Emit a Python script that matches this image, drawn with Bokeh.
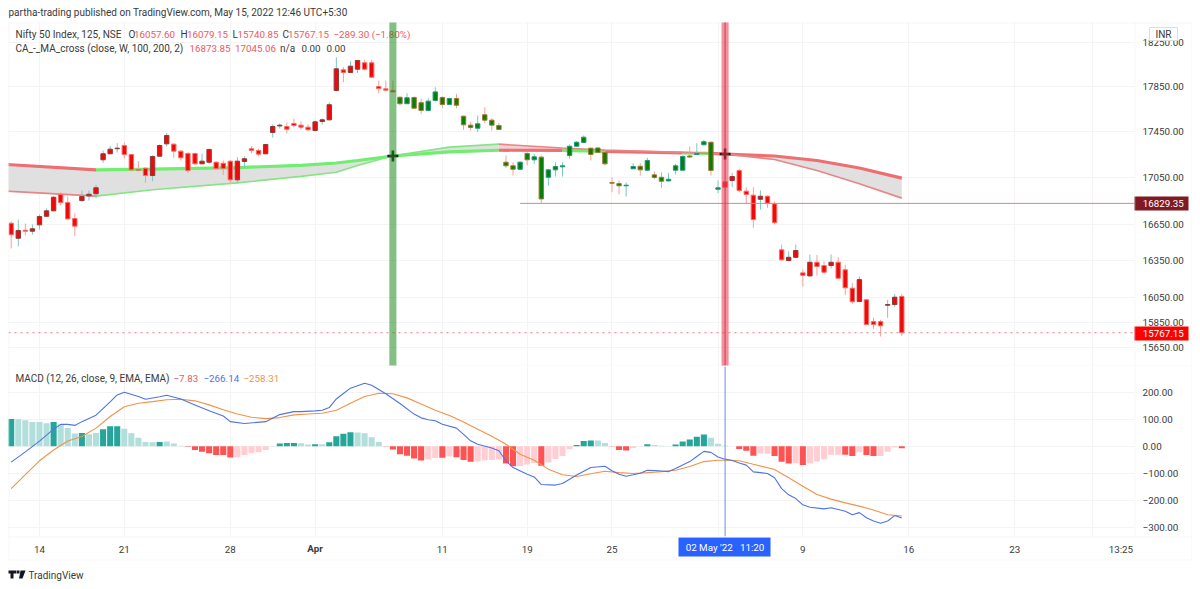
from bokeh.embed import file_html
from bokeh.layouts import column
from bokeh.models import BoxAnnotation, FixedTicker, Label, PolyAnnotation, Range1d
from bokeh.plotting import figure
from bokeh.resources import INLINE

# ---- data -----------------------------------------------------------------------
opens = [16662,16536,16603,16595,16648,16720,16766,16905,16836,16701,16853,16893,16911,17203,17255,17299,17327,17249,17119,17130,
         17067,17234,17342,17339,17278,17258,17258,17168,17182,17182,17173,17191,17030,17188,17299,17284,17255,17441,17499,17494,
         17521,17506,17488,17459,17538,17553,17814,18001,17977,18007,18065,18065,17850,17829,17814,17754,17696,17752,17705,17636,
         17725,17752,17689,17743,17585,17506,17479,17598,17550,17503,17182,17151,17121,17258,17203,17226,17052,17116,17142,17240,
         17321,17354,17304,17306,17267,17007,16998,16979,17125,17147,17113,17073,17052,17021,17113,17113,17236,17249,17334,17356,
         16950,17013,17024,17110,16933,16899,16864,16890,16825,16440,16351,16378,16250,16225,16337,16310,16310,16337,16275,16125,
         16017,16031,15856,15856,15987,15993,16057.60]
highs = [16676,16692,16659,16651,16735,16786,16890,16924,16887,16744,16939,16939,16987,17284,17325,17348,17354,17253,17191,17139,
         17240,17336,17439,17348,17288,17269,17264,17255,17299,17191,17197,17197,17226,17234,17321,17299,17342,17512,17521,17529,
         17565,17538,17512,17547,17565,17707,18116,18025,18077,18092,18092,18092,17904,17904,17904,17760,17790,17760,17740,17745,
         17844,17763,17749,17784,17591,17532,17591,17665,17567,17526,17240,17182,17191,17269,17255,17240,17123,17182,17182,17336,
         17365,17415,17310,17310,17284,17052,17024,17009,17173,17173,17220,17104,17095,17090,17168,17240,17319,17348,17377,17362,
         17024,17024,17090,17125,16967,16967,16939,16896,16845,16484,16428,16484,16277,16401,16398,16345,16401,16378,16316,16165,
         16220,16037,15886,15870,16031,16079,16079.15]
lows = [16451,16470,16559,16567,16609,16716,16764,16811,16692,16556,16845,16853,16873,17177,17253,17267,17214,17104,17110,17004,
        17018,17232,17321,17220,17197,17090,17160,17167,17168,17123,17073,17004,17001,17133,17261,17234,17253,17397,17476,17432,
        17485,17468,17459,17450,17512,17547,17808,17889,17974,17971,17995,17928,17790,17814,17799,17681,17694,17654,17607,17633,
        17719,17656,17687,17656,17465,17459,17444,17523,17459,17463,17133,17067,17119,17154,17168,16829.35,16981,17058,17058,17212,
        17319,17351,17197,17264,17154,16924,16905,16887,17123,17067,17110,17035,16959,17015,17076,17110,17220,17245,17327,17067,
        16916,16953,16967,16924,16825,16624,16777,16792,16651,16351,16347,16373,16138,16222,16228,16244,16286,16203,16071,15998,
        16015,15830,15798,15737,15886,15971,15740.85]
closes = [16565,16601,16595,16615,16718,16766,16881,16836,16698,16637,16887,16907,16962,17255,17295,17304,17249,17116,17113,17067,
          17232,17327,17415,17278,17220,17110,17168,17191,17293,17127,17127,17030,17191,17212,17284,17252,17336,17494,17506,17470,
          17503,17488,17465,17535,17553,17687,18010,17977,18034,18086,18007,17934,17832,17817,17802,17696,17749,17656,17636,17719,
          17802,17689,17743,17683,17509,17485,17518,17550,17506,17468,17151,17121,17182,17203,17229,16867,17116,17145,17151,17321,
          17356,17400,17249,17267,17168,17001,16979,16984,17145,17116,17197,17050,17018,17035,17151,17232,17227,17258,17360,17110,
          16962,16967,17058,16939,16905,16692,16890,16830,16667,16357,16378,16434,16230,16337,16302,16255,16337,16206,16128,16015,
          16195,15832,15832,15822,15993,16052,15767.15]

ma_index = [-1,0,12,20,32,41,46,49,54,62,69,78,84,95,99,101,108,114,120,126]
ma_fast = [16935,16931,16891,16945,17004,17060,17095,17154,17238,17313,17339,17306,17288,17267,17258,17253,17205,17110,16996,16873.85]
ma_slow = [17163,17160,17116,17123,17136,17154,17175,17197,17236,17271,17286,17284,17275,17262,17258,17253,17236,17197,17132,17045.06]

hist = [101,100,96,90,90,85,90,81,67,47,49,44,49,63,74,74,65,48,31,16,15,16,17,10,2,-2,-14,-21,-26,-33,-33,-42,-41,-33,-26,-22,-14,1,10,12,12,
        11,6,7,7,15,37,46,52,51,48,33,16,-1,-12,-30,-35,-46,-53,-49,-44,-43,-38,-41,-51,-58,-57,-52,-51,-49,-64,-74,-73,-68,-62,-72,-60,-47,-36,-11,4,19,21,21,
        12,-1,-14,-16,-7,-1,7,4,2,1,6,17,25,35,43,31,9,2,0,-10,-17,-35,-27,-27,-36,-58,-64,-63,-70,-64,-57,-48,-32,-32,-32,-36,-22,-33,-36,-36,-21,-5,-7.83]
hist_growing = [1,0,0,0,0,0,1,0,0,0,1,0,0,1,1,1,0,0,0,0,0,1,0,0,0,1,1,1,1,1,1,1,0,0,0,0,0,0,1,1,1,
                0,0,1,0,1,1,1,1,0,0,0,0,1,1,1,1,1,1,0,0,1,0,1,1,1,0,0,0,0,1,1,0,0,0,1,0,0,0,0,1,1,1,0,
                0,1,1,1,0,0,1,0,0,0,1,1,1,1,1,0,0,0,0,1,1,1,0,0,1,1,1,0,1,0,0,0,0,0,1,1,0,1,1,0,0,0,1]

macd_index = [0,2,4,6,7,8,9,10,12,14,15,16,18,19,21,22,24,26,28,30,31,33,36,38,40,41,43,44,45,46,47,48,50,51,53,55,57,58,59,60,61,63,64,65,66,68,69,70,71,73,74,75,77,78,80,82,
              84,85,86,87,88,89,90,91,93,94,95,96,97,98,99,100,101,102,103,104,105,106,107,108,109,110,111,112,113,115,116,118,119,120,121,122,123,124,125,126]
macd_line = [-59,-21,19,63,81,81,77,91,115,164,190,200,184,174,183,189,175,153,131,112,91,84,91,117,128,128,131,133,143,175,195,215,233,226,194,158,119,105,98,94,81,67,44,20,7,-7,-17,-54,-79,-104,-114,-142,-144,-138,-107,-79,
             -74,-91,-104,-111,-106,-100,-89,-90,-94,-83,-70,-57,-38,-19,-23,-40,-48,-53,-62,-70,-95,-98,-101,-117,-157,-180,-194,-217,-226,-232,-228,-241,-254,-246,-265,-277,-285,-277,-257,-266.14]
signal_index = [0,2,4,6,8,10,12,14,16,18,20,22,24,26,28,30,32,34,36,38,40,42,44,46,48,50,52,54,56,58,60,62,64,66,68,70,72,74,76,78,80,82,84,86,88,90,92,94,96,98,100,102,103,105,108,110,112,114,116,118,120,122,124,126]
signal_line = [-157,-105,-54,-14,19,36,67,110,146,159,165,172,174,168,153,135,119,107,102,106,116,119,122,133,159,184,196,194,179,156,133,114,90,63,37,7,-30,-52,-85,-106,-112,-102,-93,-98,-101,-98,-94,-89,-75,-57,-52,-52,-54,-67,-86,-117,-148,-179,-196,-210,-222,-236,-254,-258.31]

price_ticks = [15650,15850,16050,16350,16650,17050,17450,17850,18250]
macd_ticks = [-300,-200,-100,0,100,200]
date_ticks = [4,16,31,61,73,85,112,127,142,157]
date_labels = ["14","21","28","11","19","25","9","16","23","13:25"]
grid_ticks = [4,16,31,43,61,73,85,100,112,127,142,153]
month_tick = 43
month_label = "Apr"

change_text = "\u2212289.30 (\u22121.80%)"
cross_up = 54
cross_down = 101
pivot_start = 72
pivot_level = 16829.35
last_close = closes[-1]

FONT = "Roboto"
INK = "#3a3a3a"
RULE = "#e6e6e6"
GRID = "#f4f4f4"
W = 1192
# the frame fills each canvas: x is a bar number, y a price or a MACD value
X_RANGE = (-1.514, 167.13)
AXIS_X = 158.93         # the price scale starts here
LEFT_X = -0.38          # left edge of the panes
P_HI, P_LO = 18436, 15509   # edges of the price pane
M_HI, M_LO = 295.2, -334.4  # edges of the MACD pane
SMALL = "10px"
NUM = "9.8px"


def put(fig, top, text, x, y, color=INK, size=SMALL, align="left", **kw):
    fig.add_layout(Label(x=x, y=y - top, x_units="canvas", y_units="canvas", text=text,
                         text_color=color, text_font=FONT, text_font_size=size, text_align=align,
                         text_baseline="middle", **kw))


def rule(fig, top, x0, y0, x1, y1):
    fig.add_layout(PolyAnnotation(xs=[x0, x1], ys=[y0 - top, y1 - top], xs_units="canvas", ys_units="canvas",
                                  fill_alpha=0, line_color=RULE, line_width=1))


def rect(fig, top, x0, y0, x1, y1, color, level="annotation", **kw):
    fig.add_layout(BoxAnnotation(left=x0, right=x1, top=y0 - top, bottom=y1 - top, left_units="canvas",
                                 right_units="canvas", top_units="canvas", bottom_units="canvas",
                                 fill_color=color, fill_alpha=kw.pop("alpha", 1), line_alpha=kw.pop("line_alpha", 0),
                                 level=level, **kw))


def style_axis(ax):
    ax.major_tick_line_color = None
    ax.minor_tick_line_color = None
    ax.axis_line_color = None
    ax.major_label_text_color = INK
    ax.major_label_text_font = FONT
    ax.major_label_text_font_size = NUM


# ---- price pane ------------------------------------------------------------------
P_TOP = 0
p = figure(width=W, height=366, output_backend="svg", toolbar_location=None, y_axis_type="log",
           y_axis_location="right", x_range=Range1d(*X_RANGE), y_range=Range1d(15501, 18641),
           min_border_left=0, min_border_right=0, min_border_top=0, min_border_bottom=0, x_axis_location=None)
p.outline_line_color = None
p.yaxis.fixed_location = AXIS_X
p.yaxis.ticker = FixedTicker(ticks=price_ticks)
p.yaxis.major_label_overrides = {t: f"{t:.2f}" for t in price_ticks}
p.yaxis.major_label_standoff = 2
style_axis(p.yaxis[0])
p.xgrid.ticker = FixedTicker(ticks=grid_ticks)
p.ygrid.ticker = FixedTicker(ticks=price_ticks)
p.xgrid.grid_line_color = GRID
p.ygrid.grid_line_color = GRID
rect(p, P_TOP, 0, 0, W, 22, "white", level="glyph")
rect(p, P_TOP, 0, 0, 8, 366, "white", level="glyph")
rect(p, P_TOP, 1134, 0, W, 366, "white", level="glyph")

# moving-average ribbon
SEG = [(-1, 12, "red"), (12, 69, "green"), (69, 78, "red"), (78, 84, "green"), (84, 95, "red"),
       (95, 99, "green"), (99, 126, "red")]
RIB_RED, RIB_GREEN = "#ee6f72", "#6fee6f"


def cut(a, b, seq):
    return [v for i, v in zip(ma_index, seq) if a <= i <= b]


p.varea(x=ma_index, y1=ma_fast, y2=ma_slow, fill_color="#e0e0e0")
p.varea(x=cut(69, 84, ma_index), y1=cut(69, 84, ma_fast), y2=cut(69, 84, ma_slow), fill_color="#f0d2d2")
for a, b, tone in SEG:
    p.line(cut(a, b, ma_index), cut(a, b, ma_slow), line_width=3.2,
           line_color=RIB_RED if tone == "red" else RIB_GREEN)
for a, b, tone in [(-1, 12, "red"), (12, 69, "green"), (69, 126, "red")]:
    p.line(cut(a, b, ma_index), cut(a, b, ma_fast), line_width=1.6,
           line_color="#e98585" if tone == "red" else "#85e585")

# candles
xs = list(range(len(closes)))
is_up = [c >= o for o, c in zip(opens, closes)]
in_green = [cross_up < i < cross_down for i in xs]
wick_colors = ["#7cc8c0" if u else "#f4a09c" for u in is_up]
edge_colors = [("#1f9a80" if u else "#a07a30") if g else ("#8c3a3a" if u else "#ff6a60")
               for u, g in zip(is_up, in_green)]
body_colors = ["#0a7d0a" if g else "#ee0a0a" for g in in_green]
p.segment(xs, highs, xs, lows, line_color=wick_colors, line_width=1)
p.vbar(x=xs, width=0.62, bottom=[min(o, c) for o, c in zip(opens, closes)],
       top=[max(o, c) for o, c in zip(opens, closes)], fill_color=body_colors, line_color=edge_colors, line_width=1)

# levels
p.segment([pivot_start], [pivot_level], [AXIS_X], [pivot_level], line_color="#bb8f9c", line_width=1)
p.segment([LEFT_X], [last_close], [AXIS_X], [last_close], line_color="#f47a7a", line_width=1, line_dash="dotted")

# signal bands
p.add_layout(BoxAnnotation(left=cross_up - 0.5, right=cross_up + 0.5, top=P_HI, bottom=P_LO, fill_color="#1f8a1f",
                           fill_alpha=0.55, line_alpha=0, level="overlay"))
p.add_layout(BoxAnnotation(left=cross_down - 0.5, right=cross_down + 0.5, top=P_HI, bottom=P_LO, fill_color="#ee3344",
                           fill_alpha=0.55, line_alpha=0, level="overlay"))
p.segment([cross_down], [P_LO], [cross_down], [P_HI], line_color="#7a5a9a", line_width=1, level="overlay")
p.scatter([cross_up, cross_down], [ma_slow[ma_index.index(cross_up)], ma_slow[ma_index.index(cross_down)]],
          marker="cross", size=11, line_color="#1a1a1a", line_width=2.6, level="overlay")

# texts
put(p, P_TOP, "partha-trading published on TradingView.com, May 15, 2022 12:46 UTC+5:30", 8, 12)
VAL = "#f0585c"
put(p, P_TOP, "Nifty 50 Index, 125, NSE", 15, 34)
for tag, v, x, vx in [("O", opens[-1], 128, 133.5), ("H", highs[-1], 180, 186.5), ("L", lows[-1], 232, 237),
                      ("C", closes[-1], 282, 287.5)]:
    put(p, P_TOP, tag, x, 34)
    put(p, P_TOP, f"{v:.2f}", vx, 34, color=VAL, size=NUM)
put(p, P_TOP, change_text, 333, 34, color=VAL, size=NUM)
put(p, P_TOP, "CA_-_MA_cross (close, W, 100, 200, 2)", 15, 48)
put(p, P_TOP, f"{ma_fast[-1]:.2f}", 189, 48, color=VAL, size=NUM)
put(p, P_TOP, f"{ma_slow[-1]:.2f}", 234.5, 48, color=VAL, size=NUM)
put(p, P_TOP, "n/a", 279.5, 48)
put(p, P_TOP, "0.00", 301, 48, size=NUM)
put(p, P_TOP, "0.00", 326, 48, size=NUM)
rect(p, P_TOP, 1149, 27, 1177, 40, "white", line_alpha=1, line_color="#dddddd")
put(p, P_TOP, "INR", 1163, 33.5, align="center")
rect(p, P_TOP, 1134, 196, 1188, 210, "#801922")
put(p, P_TOP, f"{pivot_level:.2f}", 1162.7, 203, color="white", align="center", size=NUM)
rect(p, P_TOP, 1134, 326, 1188, 340, "#ff0000")
put(p, P_TOP, f"{last_close:.2f}", 1162.7, 333, color="white", align="center", size=NUM)
rule(p, P_TOP, 8.5, 22.5, 1191.5, 22.5)
rule(p, P_TOP, 8.5, 22, 8.5, 366)
rule(p, P_TOP, 1134.5, 22, 1134.5, 366)
rule(p, P_TOP, 1191.5, 22, 1191.5, 366)
rule(p, P_TOP, 8.5, 365.5, 1191.5, 365.5)

# ---- MACD pane -------------------------------------------------------------------
M_TOP = 366
q = figure(width=W, height=215, output_backend="svg", toolbar_location=None, y_axis_location="right",
           x_range=p.x_range, y_range=Range1d(-501.1, M_HI), min_border_left=0, min_border_right=0,
           min_border_top=0, min_border_bottom=0)
q.outline_line_color = None
q.yaxis.fixed_location = AXIS_X
q.xaxis.fixed_location = M_LO
q.yaxis.ticker = FixedTicker(ticks=macd_ticks)
q.yaxis.major_label_overrides = {t: f"{t:.2f}".replace("-", "\u2212") for t in macd_ticks}
q.yaxis.major_label_standoff = 2
style_axis(q.yaxis[0])
q.xaxis.ticker = FixedTicker(ticks=date_ticks)
q.xaxis.major_label_overrides = dict(zip(date_ticks, date_labels))
q.xaxis.major_label_standoff = 2
style_axis(q.xaxis[0])
q.xgrid.ticker = FixedTicker(ticks=grid_ticks)
q.ygrid.ticker = FixedTicker(ticks=macd_ticks)
q.xgrid.grid_line_color = GRID
q.ygrid.grid_line_color = GRID
rect(q, M_TOP, 0, M_TOP, 8, 581, "white", level="glyph")
rect(q, M_TOP, 1134, M_TOP, W, 581, "white", level="glyph")
rect(q, M_TOP, 0, 536, W, 581, "white", level="glyph")


def hist_color(v, g):
    if v >= 0:
        return "#26a69a" if g else "#b2dfdb"
    return "#ff5252" if g else "#ffcdd2"


q.vbar(x=xs, width=0.86, bottom=0, top=hist, line_alpha=0,
       fill_color=[hist_color(v, g) for v, g in zip(hist, hist_growing)])
q.line(signal_index, signal_line, line_color="#f0934a", line_width=1.1)
q.line(macd_index, macd_line, line_color="#4f74e3", line_width=1.1)
q.segment([cross_down], [M_LO], [cross_down], [M_HI], line_color="#6f8ce8", line_width=1)

put(q, M_TOP, "MACD (12, 26, close, 9, EMA, EMA)", 15, 378)
put(q, M_TOP, f"{hist[-1]:.2f}".replace("-", "\u2212"), 173, 378, color=VAL, size=NUM)
put(q, M_TOP, f"{macd_line[-1]:.2f}".replace("-", "\u2212"), 203, 378, color="#4f74e3", size=NUM)
put(q, M_TOP, f"{signal_line[-1]:.2f}".replace("-", "\u2212"), 243, 378, color="#f0934a", size=NUM)
q.add_layout(Label(x=month_tick, y=548 - M_TOP, y_units="canvas", text=month_label, text_color=INK, text_font=FONT,
                   text_font_size=NUM, text_font_style="bold", text_align="center", text_baseline="middle"))
rect(q, M_TOP, 678, 537, 770, 556, "#2962ff")
put(q, M_TOP, "02 May '22\u00a0\u00a0\u00a011:20", 724.5, 546.5, color="white", align="center", size=NUM)
put(q, M_TOP, "TradingView", 28, 574.5)
rule(q, M_TOP, 1191.5, 366, 1191.5, 559.5)
rule(q, M_TOP, 8.5, 559.5, 1191.5, 559.5)
rule(q, M_TOP, 8.5, 366, 8.5, 559.5)
rule(q, M_TOP, 1134.5, 366, 1134.5, 536.5)
rule(q, M_TOP, 8.5, 536.5, 1191.5, 536.5)

for xs_logo, ys_logo in [([8, 16, 16, 13, 13, 10, 10, 8], [570, 570, 573, 573, 578, 578, 573, 573]),
                         ([16.5, 19, 19, 16.5], [570, 570, 573, 573]),
                         ([20, 25, 22, 18.5], [570, 570, 578, 578])]:
    q.add_layout(PolyAnnotation(xs=xs_logo, ys=[v - M_TOP for v in ys_logo], xs_units="canvas",
                                ys_units="canvas", fill_color="#131722", fill_alpha=1, line_alpha=0))

page = column(p, q, spacing=0)
open("out.html", "w").write(file_html(page, INLINE))
